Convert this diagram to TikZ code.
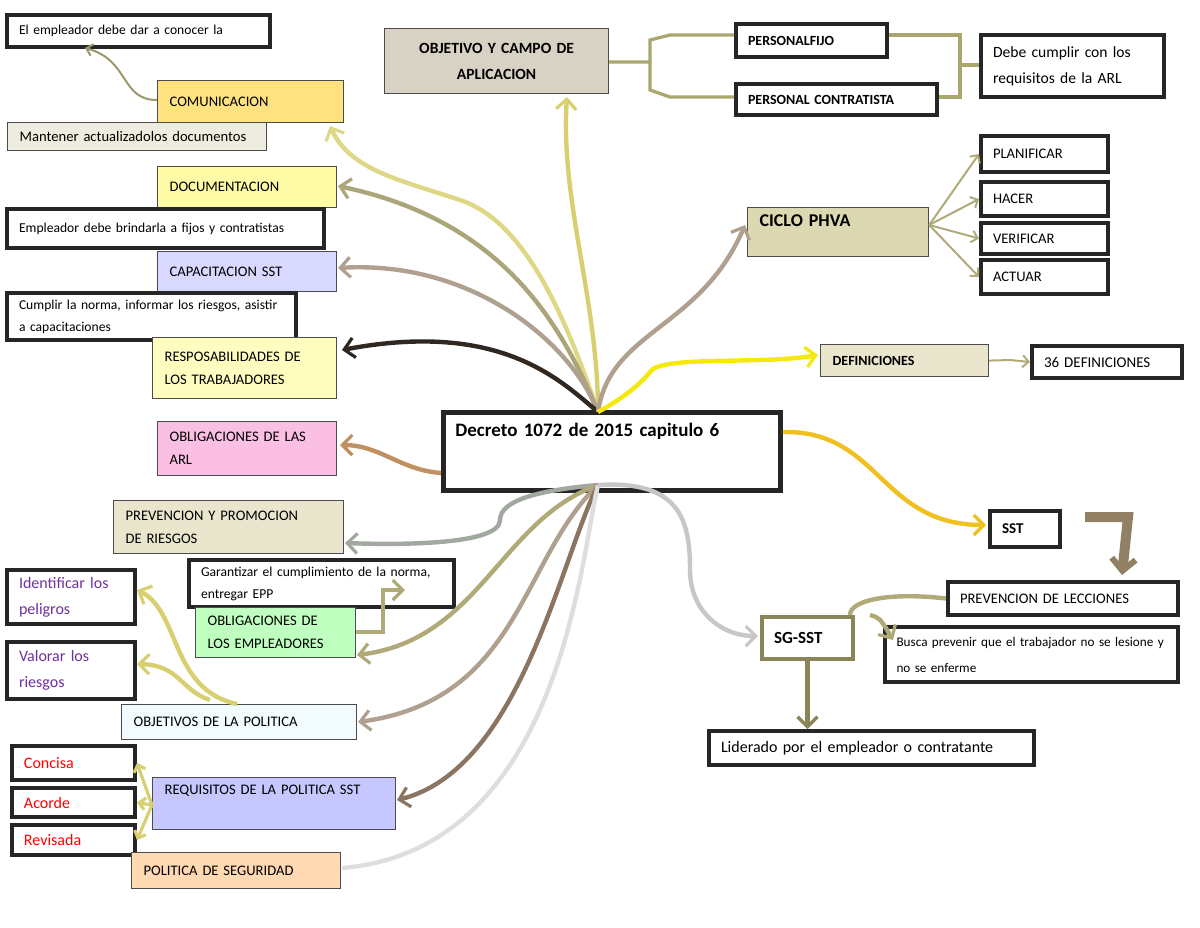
\documentclass[tikz,border=0pt]{standalone}
\usepackage{fontspec}
\setmainfont{Carlito}
\usetikzlibrary{arrows.meta, positioning}
\definecolor{olivegray}{RGB}{176,170,120}
\definecolor{yelolive}{RGB}{216,208,112}
\definecolor{taupe}{RGB}{176,160,144}
\definecolor{darkbrown}{RGB}{48,40,32}
\definecolor{ochre}{RGB}{192,144,96}
\definecolor{gold}{RGB}{240,192,32}
\definecolor{sagegray}{RGB}{160,168,160}
\definecolor{brownish}{RGB}{139,117,96}
\definecolor{lightgray}{RGB}{222,222,222}
\definecolor{bracket}{RGB}{170,166,110}
\definecolor{txtpurple}{RGB}{112,48,160}
\definecolor{campofill}{RGB}{216,210,196}
\definecolor{prevfill}{RGB}{234,230,206}
\definecolor{mantfill}{RGB}{238,236,222}
\definecolor{ciclofill}{RGB}{220,216,178}
\tikzset{box/.style={draw=black!70, line width=0.6pt, anchor=north west, align=left, inner xsep=6pt, font=\fontsize{7.3}{11.5}\selectfont},
         thickbox/.style={box, draw=black!85, line width=2pt, fill=white},
         w/.style={minimum width=#1*0.5pt, text width=#1*0.5pt-12pt},
         h/.style={minimum height=#1*0.5pt}}
\begin{document}
\begin{tikzpicture}[
        x=0.5pt, y=-0.5pt,
        conn/.style={line width=2.2pt, -{Straight Barb[length=5pt,width=10pt,line width=1.6pt]}},
        thin/.style={line width=1pt, -{Straight Barb[length=3pt,width=6pt]}},
    ]
        \useasboundingbox (0,0) rectangle (1200,927);
        % Center
        \node[thickbox, w=337, h=78, line width=2.4pt, font=\bfseries\fontsize{9.5}{11}\selectfont, text depth=22pt] (dec) at (441,410) {Decreto 1072 de 2015 capitulo 6};
        \coordinate (top) at (598,412);
        \coordinate (bot) at (598,485);
        % Left column
        \node[thickbox, w=263, h=32, font=\fontsize{6.8}{11}\selectfont] (conocer) at (5,13) {El empleador debe dar a conocer la};
        \node[box, fill=orange!45!yellow!50, w=186, h=42] (comu) at (157,80) {COMUNICACION};
        \node[box, fill=mantfill, w=259, h=28] (mant) at (7,122) {Mantener actualizadolos documentos};
        \node[box, fill=yellow!35, w=179, h=41] (docu) at (157,166) {DOCUMENTACION};
        \node[thickbox, w=317, h=39, font=\fontsize{6.8}{11}\selectfont] (brind) at (5,207) {Empleador debe brindarla a fijos y contratistas};
        \node[box, fill=blue!15, w=179, h=40] (capa) at (157,251) {CAPACITACION SST};
        \node[thickbox, w=289, h=43, font=\fontsize{6.8}{11}\selectfont] (cumpl) at (5,291) {Cumplir la norma, informar los riesgos, asistir\\a capacitaciones};
        \node[box, fill=yellow!25, w=184, h=61] (resp) at (152,337) {RESPOSABILIDADES DE\\LOS TRABAJADORES};
        \node[box, fill=magenta!25, w=179, h=54] (arl) at (157,421) {OBLIGACIONES DE LAS\\ARL};
        \node[box, fill=prevfill, w=230, h=53] (prev) at (113,500) {PREVENCION Y PROMOCION\\DE RIESGOS};
        \node[thickbox, w=265, h=47, font=\fontsize{6.8}{11}\selectfont] (garan) at (187,558) {Garantizar el cumplimiento de la norma,\\entregar EPP};
        \node[box, fill=green!25, w=160, h=50] (oblemp) at (195,607) {OBLIGACIONES DE\\LOS EMPLEADORES};
        \node[thickbox, w=128, h=54, text=txtpurple, font=\fontsize{8}{13}\selectfont] (ident) at (5,568) {Identificar los\\peligros};
        \node[thickbox, w=128, h=57, text=txtpurple, font=\fontsize{8}{13}\selectfont] (valor) at (5,640) {Valorar los\\riesgos};
        \node[box, fill=cyan!5, w=235, h=35] (objpol) at (121,704) {OBJETIVOS DE LA POLITICA};
        \node[thickbox, w=123, h=34, text=red, font=\fontsize{8}{11}\selectfont] (conc) at (10,744) {Concisa};
        \node[thickbox, w=123, h=29, text=red, font=\fontsize{8}{11}\selectfont] (acor) at (10,786) {Acorde};
        \node[thickbox, w=123, h=30, text=red, font=\fontsize{8}{11}\selectfont] (revi) at (10,823) {Revisada};
        \node[box, fill=blue!22, w=243, h=52, text depth=14pt] (requi) at (152,777) {REQUISITOS DE LA POLITICA SST};
        \node[box, fill=orange!30, w=209, h=36] (polseg) at (131,852) {POLITICA DE SEGURIDAD};
        % Right side
        \node[box, fill=campofill, w=224, h=65, align=center, font=\bfseries\fontsize{7.8}{13}\selectfont] (objcam) at (384,28) {OBJETIVO Y CAMPO DE\\APLICACION};
        \node[thickbox, w=151, h=33, font=\bfseries\fontsize{7}{11}\selectfont] (fijo) at (734,22) {PERSONALFIJO};
        \node[thickbox, w=201, h=31, font=\bfseries\fontsize{7}{11}\selectfont] (contr) at (734,82) {PERSONAL CONTRATISTA};
        \node[thickbox, w=183, h=62, font=\fontsize{7.8}{13}\selectfont] (debe) at (979,33) {Debe cumplir con los\\requisitos de la ARL};
        \node[box, fill=ciclofill, w=181, h=49, text depth=12pt, font=\bfseries\fontsize{9}{11}\selectfont] (ciclo) at (747,207) {CICLO PHVA};
        \node[thickbox, w=127, h=36] (plan) at (979,134) {PLANIFICAR};
        \node[thickbox, w=127, h=34] (hacer) at (979,180) {HACER};
        \node[thickbox, w=127, h=31] (verif) at (979,221) {VERIFICAR};
        \node[thickbox, w=127, h=34] (actu) at (979,258) {ACTUAR};
        \node[box, fill=prevfill, w=168, h=32, font=\bfseries\fontsize{7}{11}\selectfont] (defi) at (820,344) {DEFINICIONES};
        \node[thickbox, w=150, h=32, font=\fontsize{7.5}{11}\selectfont] (def36) at (1030,344) {36 DEFINICIONES};
        \node[thickbox, w=70, h=36, font=\bfseries\fontsize{7.5}{11}\selectfont] (sst) at (988,509) {SST};
        \node[thickbox, w=230, h=33, font=\fontsize{7.3}{11}\selectfont] (lecc) at (946,580) {PREVENCION DE LECCIONES};
        \node[thickbox, w=293, h=55, inner xsep=5pt, text width=135pt, font=\fontsize{6.6}{13}\selectfont] (busca) at (883,625) {Busca prevenir que el trabajador no se lesione y\\no se enferme};
        \node[thickbox, draw=bracket!80!black, w=91, h=42, font=\bfseries\fontsize{8.5}{11}\selectfont] (sgsst) at (760,615) {SG-SST};
        \node[thickbox, w=325, h=34, font=\fontsize{8}{11}\selectfont] (lider) at (707,729) {Liderado por el empleador o contratante};
        % Main branches, top
        \draw[conn, yelolive] (top) .. controls (598,300) and (560,200) .. (567,97);
        \draw[conn, yelolive!85!white] (top) .. controls (560,300) and (520,220) .. (460,200) .. controls (400,180) and (350,170) .. (330,126);
        \draw[conn, olivegray!90!gray] (top) .. controls (560,320) and (500,220) .. (338,186);
        \draw[conn, taupe] (top) .. controls (570,340) and (470,260) .. (338,268);
        \draw[conn, darkbrown] (top) .. controls (560,380) and (500,320) .. (342,350);
        \draw[conn, taupe] (top) .. controls (610,330) and (700,330) .. (745,225);
        \draw[conn, yellow!95!black] (top) .. controls (620,400) and (640,385) .. (650,372) .. controls (660,355) and (760,365) .. (818,355);
        \draw[conn, ochre] (dec.west |- 0,473) .. controls (400,470) and (380,445) .. (340,445);
        \draw[conn, gold] (dec.east |- 0,432) .. controls (880,430) and (880,525) .. (986,525);
        % Main branches, bottom
        \draw[conn, sagegray] (bot) .. controls (540,490) and (500,500) .. (500,520) .. controls (500,545) and (400,545) .. (345,543);
        \draw[conn, olivegray] (bot) .. controls (500,520) and (480,640) .. (357,655);
        \draw[conn, taupe] (bot) .. controls (520,560) and (520,700) .. (358,722);
        \draw[conn, brownish] (bot) .. controls (560,560) and (520,770) .. (397,800);
        \draw[line width=2.2pt, lightgray] (bot) .. controls (580,560) and (560,850) .. (342,868);
        \draw[conn, black!22] (bot) .. controls (680,480) and (690,520) .. (690,570) .. controls (690,610) and (720,636) .. (758,636);
        % Small branches
        \draw[thin, olivegray!90!black] (comu.west |- 0,100) .. controls (120,100) and (130,60) .. (85,48);
        \draw[line width=1.6pt, bracket] (objcam.east |- 0,62) -- (650,62) -- (650,40) -- (670,35) -- (734,35);
        \draw[line width=1.6pt, bracket] (650,62) -- (650,90) -- (670,97) -- (734,97);
        \draw[line width=1.6pt, bracket] (fijo.east |- 0,35) -- (960,35) -- (960,65) -- (979,65);
        \draw[line width=1.6pt, bracket] (contr.east |- 0,97) -- (960,97) -- (960,65);
        \draw[thin, olivegray] (ciclo.east |- 0,225) -- (plan.west);
        \draw[thin, olivegray] (ciclo.east |- 0,225) -- (hacer.west);
        \draw[thin, olivegray] (ciclo.east |- 0,225) -- (verif.west);
        \draw[thin, olivegray] (ciclo.east |- 0,225) -- (actu.west);
        \draw[thin, olivegray] (defi.east) -- (1010,360) -- (def36.west);
        \draw[line width=5pt, brownish!80!olivegray, -{Straight Barb[length=6pt,width=12pt,line width=3pt]}] (1085,517) -- (1128,517) -- (1122,575);
        \draw[conn, olivegray] (lecc.west) .. controls (890,592) and (850,600) .. (850,615) (870,615) .. controls (880,618) .. (893,640);
        \draw[conn, bracket!80!black] (sgsst.south) -- (lider.north -| sgsst.south);
        \draw[conn, olivegray] (oblemp.east |- 0,632) -- (383,632) -- (383,590) -- (405,590);
        \draw[conn, yelolive] (237,704) .. controls (170,690) and (180,610) .. (137,590);
        \draw[conn, yelolive] (210,700) .. controls (180,690) and (180,665) .. (137,664);
        \draw[thin, line width=1.6pt, yelolive] (requi.west |- 0,805) -- (conc.east);
        \draw[thin, line width=1.6pt, yelolive] (requi.west |- 0,805) -- (acor.east);
        \draw[thin, line width=1.6pt, yelolive] (requi.west |- 0,805) -- (revi.east);
    \end{tikzpicture}
\end{document}
